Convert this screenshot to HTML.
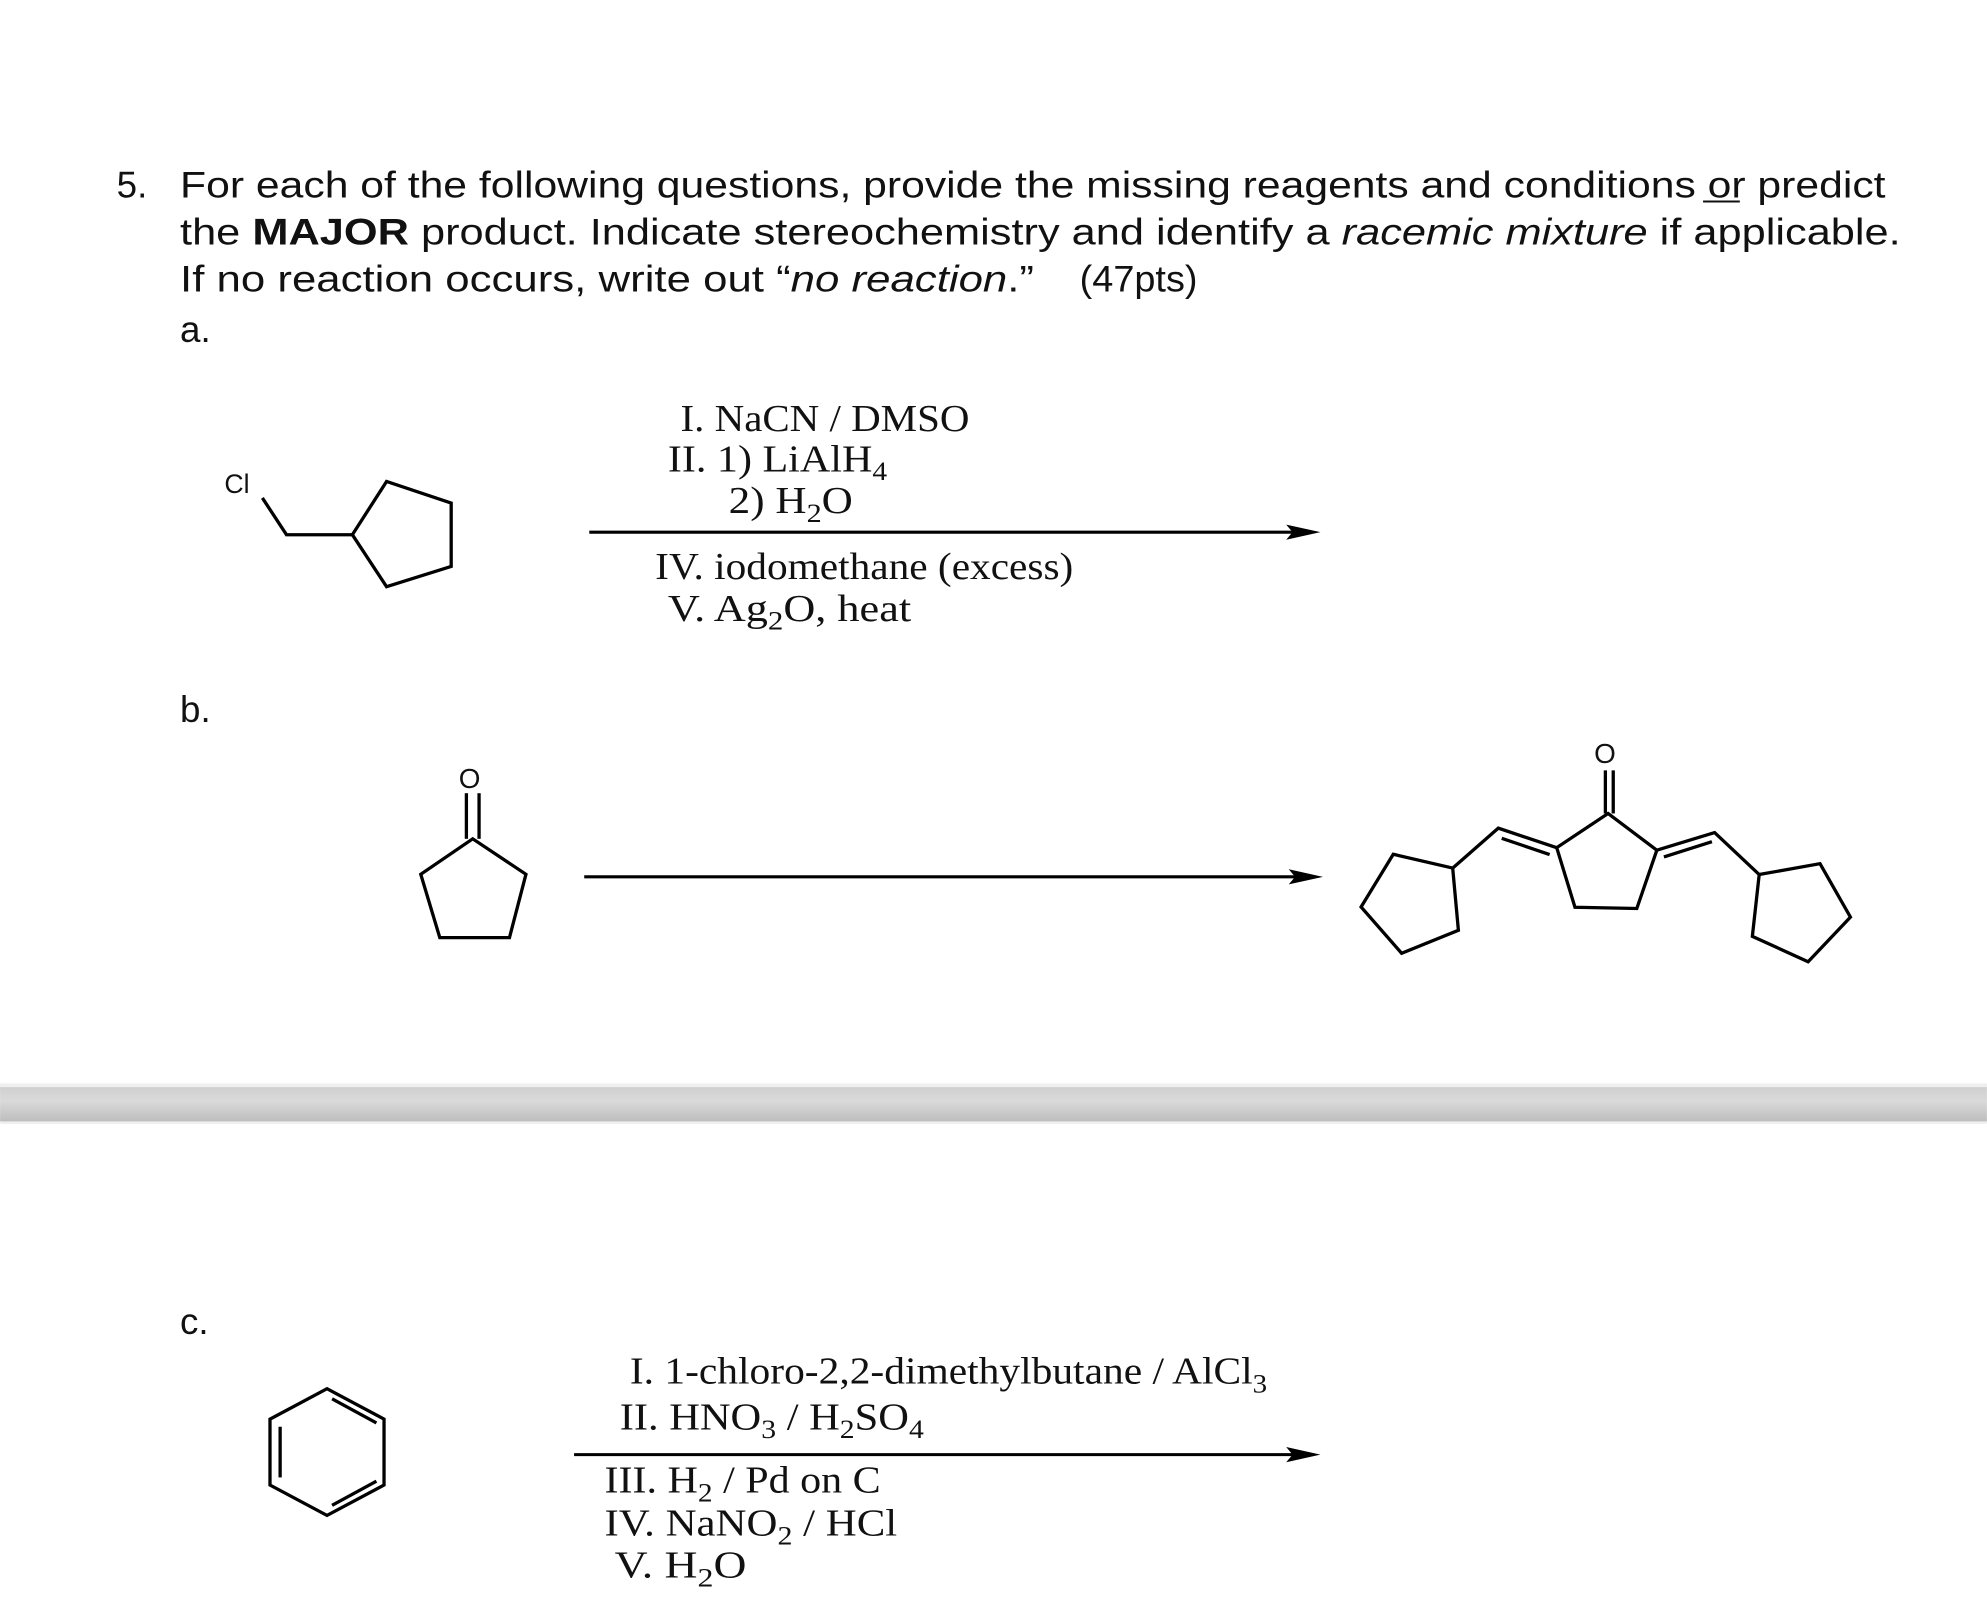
<!DOCTYPE html>
<html><head><meta charset="utf-8"><style>
html,body{margin:0;padding:0;background:#fff;width:1987px;height:1613px;overflow:hidden}
svg{display:block}
.h{font-family:"Liberation Sans","DejaVu Sans",sans-serif;font-size:29px;fill:#111}
.t{font-family:"Liberation Serif",serif;font-size:30px;fill:#111}
.s{font-size:21px}
</style></head><body>
<svg width="1987" height="1613" viewBox="0 0 1568 1273" xmlns="http://www.w3.org/2000/svg">
<defs>
<linearGradient id="g" x1="0" y1="0" x2="0" y2="1">
<stop offset="0" stop-color="#cfcfcf"/><stop offset="0.4" stop-color="#dadada"/><stop offset="1" stop-color="#bdbdbd"/>
</linearGradient>
</defs>
<text class="h" x="92" y="156">5.</text>
<text class="h" x="142" y="156" textLength="1346" lengthAdjust="spacingAndGlyphs">For each of the following questions, provide the missing reagents and conditions or predict</text>
<line x1="1344" y1="159" x2="1373" y2="159" stroke="#111" stroke-width="1.6"/>
<text class="h" x="142" y="193" textLength="1358" lengthAdjust="spacingAndGlyphs">the <tspan font-weight="bold">MAJOR</tspan> product.  Indicate stereochemistry and identify a <tspan font-style="italic">racemic mixture</tspan> if applicable.</text>
<text class="h" x="142" y="230" textLength="674" lengthAdjust="spacingAndGlyphs">If no reaction occurs, write out “<tspan font-style="italic">no reaction</tspan>.”</text>
<text class="h" x="852" y="230" textLength="93" lengthAdjust="spacingAndGlyphs">(47pts)</text>
<text class="h" x="142" y="270">a.</text>
<text class="h" x="142" y="570">b.</text>
<text class="h" x="142" y="1053">c.</text>

<g fill="none" stroke="#000" stroke-width="2.6" stroke-linejoin="miter">
<polyline points="207,393 226,422 278,422"/>
<polygon points="278,422 305,380 356,397 356,447 305,463"/>
<line x1="368" y1="626" x2="368" y2="662"/><line x1="378" y1="626" x2="378" y2="662"/>
<polygon points="373,662 415,690 402,740 347,740 332,690"/>
<line x1="1266.9" y1="608" x2="1266.9" y2="642"/><line x1="1273.1" y1="608" x2="1273.1" y2="642"/>
<polygon points="1269,642 1307.5,671 1291.7,717 1242.9,716 1228.5,669"/>
<polyline points="1228.5,669 1182.4,653.6 1146.4,685.1"/>
<line x1="1222.9" y1="674.4" x2="1185.1" y2="661.6"/>
<polygon points="1146.4,685.1 1099.5,674.2 1074.1,715.8 1106.1,752.3 1150.9,734.2"/>
<polyline points="1307.5,671 1353.1,657.1 1388.3,690.2"/>
<line x1="1313.1" y1="676.3" x2="1351" y2="664.3"/>
<polygon points="1388.3,690.2 1436.3,681.6 1460.3,723.8 1426.9,759 1382.9,739"/>
<polygon points="258,1096 303,1120 303,1172 258,1196 213,1172 213,1120"/>
<line x1="221" y1="1126" x2="221" y2="1166"/>
<line x1="262" y1="1104" x2="297" y2="1123"/>
<line x1="262" y1="1188" x2="297" y2="1169"/>
</g>
<text x="177" y="389" font-family="Liberation Sans,sans-serif" font-size="21" fill="#111">Cl</text>
<text x="362" y="622" font-family="Liberation Sans,sans-serif" font-size="22" fill="#111">O</text>
<text x="1258" y="602" font-family="Liberation Sans,sans-serif" font-size="22" fill="#111">O</text>

<g stroke="#000" stroke-width="2.4">
<line x1="465" y1="420" x2="1020" y2="420"/>
<line x1="461" y1="692" x2="1022" y2="692"/>
<line x1="453" y1="1148" x2="1020" y2="1148"/>
</g>
<g fill="#000">
<polygon points="1042,420 1015,414 1020,420 1015,426"/>
<polygon points="1044,692 1017,686 1022,692 1017,698"/>
<polygon points="1042,1148 1015,1142 1020,1148 1015,1154"/>
</g>

<text class="t" x="537" y="340" textLength="228" lengthAdjust="spacingAndGlyphs">I.  NaCN / DMSO</text>
<text class="t" x="527" y="372" textLength="173" lengthAdjust="spacingAndGlyphs">II.  1) LiAlH<tspan class="s" dy="7">4</tspan></text>
<text class="t" x="575" y="405" textLength="98" lengthAdjust="spacingAndGlyphs">2)  H<tspan class="s" dy="7">2</tspan><tspan dy="-7">O</tspan></text>
<text class="t" x="517" y="457" textLength="330" lengthAdjust="spacingAndGlyphs">IV.  iodomethane (excess)</text>
<text class="t" x="527" y="490" textLength="192" lengthAdjust="spacingAndGlyphs">V.  Ag<tspan class="s" dy="7">2</tspan><tspan dy="-7">O,  heat</tspan></text>

<text class="t" x="497" y="1092" textLength="503" lengthAdjust="spacingAndGlyphs">I.  1-chloro-2,2-dimethylbutane / AlCl<tspan class="s" dy="7">3</tspan></text>
<text class="t" x="489" y="1128" textLength="240" lengthAdjust="spacingAndGlyphs">II.  HNO<tspan class="s" dy="7">3</tspan><tspan dy="-7"> / H</tspan><tspan class="s" dy="7">2</tspan><tspan dy="-7">SO</tspan><tspan class="s" dy="7">4</tspan></text>
<text class="t" x="477" y="1178" textLength="218" lengthAdjust="spacingAndGlyphs">III.  H<tspan class="s" dy="7">2</tspan><tspan dy="-7"> / Pd on C</tspan></text>
<text class="t" x="477" y="1212" textLength="231" lengthAdjust="spacingAndGlyphs">IV.  NaNO<tspan class="s" dy="7">2</tspan><tspan dy="-7"> / HCl</tspan></text>
<text class="t" x="485" y="1245" textLength="104" lengthAdjust="spacingAndGlyphs">V.  H<tspan class="s" dy="7">2</tspan><tspan dy="-7">O</tspan></text>

<rect x="0" y="855" width="1568" height="32" fill="#efefef"/>
<rect x="0" y="858" width="1568" height="27" fill="url(#g)"/>
</svg>
</body></html>
